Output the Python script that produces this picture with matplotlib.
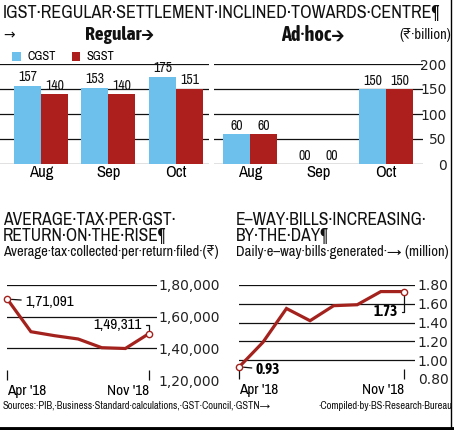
import matplotlib
matplotlib.use("Agg")
import matplotlib.pyplot as plt
from matplotlib.ticker import FuncFormatter

W, H = 454, 430
NARROW = ["Archivo Narrow", "Liberation Sans Narrow", "DejaVu Sans"]
BOLD_NARROW = ["Asap Condensed", "Saira SemiCondensed", "DejaVu Sans"]
PLAIN = ["DejaVu Sans"]
BLUE = "#6dc0ec"
RED = "#ad1f1c"
LINE_RED = "#a3221d"

# settlement data (Rs billion)
months = ["Aug", "Sep", "Oct"]
regular_cgst = [157, 153, 175]
regular_sgst = [140, 140, 151]
adhoc_cgst = [60, 0, 150]
adhoc_sgst = [60, 0, 150]
bar_yticks = [0, 50, 100, 150, 200]

# average tax per return (Rs), Apr '18 -> Nov '18
tax_per_return = [171091, 150500, 148000, 145900, 140400, 139900, 149311]
tax_yticks = [120000, 140000, 160000, 180000]

# daily e-way bills (million), Apr '18 -> Nov '18
eway_bills = [0.93, 1.19, 1.55, 1.42, 1.58, 1.59, 1.73, 1.73]
eway_yticks = [0.80, 1.00, 1.20, 1.40, 1.60, 1.80]

end_labels = ["Apr '18", "Nov '18"]


def px_axes(fig, x0, y0, x1, y1):
    """Axes placed by pixel box (top-left origin)."""
    return fig.add_axes([x0 / W, 1 - y1 / H, (x1 - x0) / W, (y1 - y0) / H])


def ftext(fig, x, y, s, **kw):
    kw.setdefault("family", NARROW)
    kw.setdefault("va", "center")
    kw.setdefault("color", "#111")
    return fig.text(x / W, 1 - y / H, s, **kw)


def indian(v, _pos=None):
    s = f"{int(round(v))}"
    head, tail = s[:-3], s[-3:]
    parts = []
    while len(head) > 2:
        parts.insert(0, head[-2:])
        head = head[:-2]
    if head:
        parts.insert(0, head)
    return ",".join(parts + [tail])


def bar_panel(ax, cgst, sgst, right_labels=False):
    x = range(len(months))
    w = 0.4
    b1 = ax.bar([i - w / 2 for i in x], cgst, w, color=BLUE, label="CGST", zorder=3)
    b2 = ax.bar([i + w / 2 for i in x], sgst, w, color=RED, label="SGST", zorder=3)
    for b in (b1, b2):
        ax.bar_label(b, fmt="{:02.0f}", padding=1, fontsize=10, family=NARROW, color="#111")
    ax.set_ylim(0, 200)
    ax.set_yticks(bar_yticks)
    ax.grid(axis="y", color="#111", lw=0.9, zorder=1)
    ax.set_xticks(list(x))
    ax.set_xticklabels(months, fontsize=12, family=NARROW)
    ax.tick_params(axis="x", length=0, pad=1)
    for sp in ax.spines.values():
        sp.set_visible(False)
    if right_labels:
        ax.yaxis.tick_right()
        ax.tick_params(axis="y", length=0, pad=17, labelsize=10)
        for t in ax.get_yticklabels():
            t.set_ha("right")
            t.set_family(PLAIN)
            t.set_color("#222")
    else:
        ax.tick_params(axis="y", length=0, labelleft=False)
    return b1, b2


def line_panel(ax, values, yticks, fmt, ylim):
    x = list(range(len(values)))
    ax.plot(x, values, color=LINE_RED, lw=2.3, solid_joinstyle="miter", zorder=3,
            clip_on=False)
    ax.plot([x[0], x[-1]], [values[0], values[-1]], "o", ms=4.5, mfc="white",
            mec=LINE_RED, mew=1, zorder=4, clip_on=False)
    ax.set_ylim(*ylim)
    ax.set_yticks(yticks)
    ax.yaxis.set_major_formatter(FuncFormatter(fmt))
    for yv in yticks[1:]:
        ax.axhline(yv, color="#111", lw=0.9, zorder=1)
    ax.yaxis.tick_right()
    ax.tick_params(axis="y", length=0, pad=1, labelsize=10)
    for t in ax.get_yticklabels():
        t.set_family(PLAIN)
        t.set_color("#222")
    ax.set_xticks([x[0], x[-1]])
    ax.set_xticklabels(end_labels, fontsize=11, family=NARROW)
    ax.get_xticklabels()[0].set_ha("left")
    ax.get_xticklabels()[1].set_ha("right")
    ax.tick_params(axis="x", direction="in", length=7, width=0.9, color="#111", pad=3)
    for sp in ax.spines.values():
        sp.set_visible(False)
    return x


fig = plt.figure(figsize=(W / 100, H / 100), dpi=100)

# --- top: settlement bars ---
ftext(fig, 3, 18, "IGST·REGULAR·SETTLEMENT·INCLINED·TOWARDS·CENTRE¶", fontsize=13,
      va="baseline")
ftext(fig, 3, 35, "→", fontsize=10, family=PLAIN)
ftext(fig, 119, 35, "Regular→", fontsize=14, family=BOLD_NARROW, weight="bold",
      ha="center")
ftext(fig, 313, 35, "Ad·hoc→", fontsize=14.5, family=BOLD_NARROW, weight="bold",
      ha="center")
ftext(fig, 451, 35, "(₹·billion)", fontsize=10.5, ha="right")

ax_reg = px_axes(fig, 0, 64, 209, 164)
b1, b2 = bar_panel(ax_reg, regular_cgst, regular_sgst)
ax_reg.set_xlim(-0.607, 2.49)

ax_adh = px_axes(fig, 214, 64, 423, 164)
bar_panel(ax_adh, adhoc_cgst, adhoc_sgst, right_labels=True)
ax_adh.set_xlim(-0.53, 2.54)

ax_reg.legend(handles=[b1, b2], loc="center left", bbox_to_anchor=(12 / W, 1 - 57 / H),
              bbox_transform=fig.transFigure, ncol=2, frameon=False,
              prop={"family": NARROW, "size": 9}, handlelength=0.7, handleheight=0.7,
              handletextpad=0.5, columnspacing=1.3, borderaxespad=0, borderpad=0)

# --- bottom left: average tax per return ---
ftext(fig, 3, 225, "AVERAGE·TAX·PER·GST·", fontsize=12.6, va="baseline")
ftext(fig, 3, 241, "RETURN·ON·THE·RISE¶", fontsize=12.6, va="baseline")
ftext(fig, 3, 252, "Average·tax·collected·per·return·filed·(₹)", fontsize=10.5)

ax_tax = px_axes(fig, 7.3, 285, 157, 380)
xt = line_panel(ax_tax, tax_per_return, tax_yticks, indian, (120000, 180000))
ax_tax.set_xlim(0, 6.34)
ax_tax.annotate(indian(tax_per_return[0]), xy=(xt[0], tax_per_return[0]), xytext=(13, -2),
                textcoords="offset points", va="center", ha="left", fontsize=11,
                family=NARROW, arrowprops=dict(arrowstyle="-", lw=0.9, color="#111",
                                               shrinkA=1, shrinkB=3))
ax_tax.annotate(indian(tax_per_return[-1]), xy=(xt[-1], tax_per_return[-1]),
                xytext=(-5, 6.5), textcoords="offset points", va="center", ha="right",
                fontsize=11, family=NARROW,
                arrowprops=dict(arrowstyle="-", lw=0.9, color="#111", shrinkA=1,
                                shrinkB=2.5,
                                connectionstyle="angle,angleA=0,angleB=90,rad=0"))

# --- bottom right: e-way bills ---
ftext(fig, 236, 225, "E–WAY·BILLS·INCREASING·", fontsize=12.6, va="baseline")
ftext(fig, 236, 241, "BY·THE·DAY¶", fontsize=12.6, va="baseline")
ftext(fig, 236, 252, "Daily·e–way·bills·generated·→ (million)", fontsize=10.5)

ax_ewb = px_axes(fig, 239.3, 285, 415, 379)
xe = line_panel(ax_ewb, eway_bills, eway_yticks, lambda v, p: f"{v:.2f}", (0.8, 1.8))
ax_ewb.set_xlim(0, 7.45)
ax_ewb.tick_params(axis="y", pad=2)
ax_ewb.annotate(f"{eway_bills[0]:.2f}", xy=(xe[0], eway_bills[0]), xytext=(12, -2),
                textcoords="offset points", va="center", ha="left", fontsize=11,
                family=BOLD_NARROW, weight="bold",
                arrowprops=dict(arrowstyle="-", lw=0.9, color="#111", shrinkA=1, shrinkB=3))
ax_ewb.annotate(f"{eway_bills[-1]:.2f}", xy=(xe[-1], eway_bills[-1]), xytext=(-5, -15),
                textcoords="offset points", va="center", ha="right", fontsize=11,
                family=BOLD_NARROW, weight="bold",
                arrowprops=dict(arrowstyle="-", lw=0.9, color="#111", shrinkA=1,
                                shrinkB=2.5,
                                connectionstyle="angle,angleA=0,angleB=90,rad=0"))

# --- footer ---
ftext(fig, 3, 406, "Sources:·PIB,·Business·Standard·calculations,·GST·Council,·GSTN→",
      fontsize=7.6)
ftext(fig, 452, 406, "·Compiled·by·BS·Research·Bureau", fontsize=7.6, ha="right")
fig.add_artist(plt.Line2D([0, 1], [1.5 / H, 1.5 / H], color="black", lw=3.5))
fig.add_artist(plt.Line2D([451 / W, 451 / W], [3 / H, 1], color="black", lw=1))

fig.savefig("out.png", dpi=100)
